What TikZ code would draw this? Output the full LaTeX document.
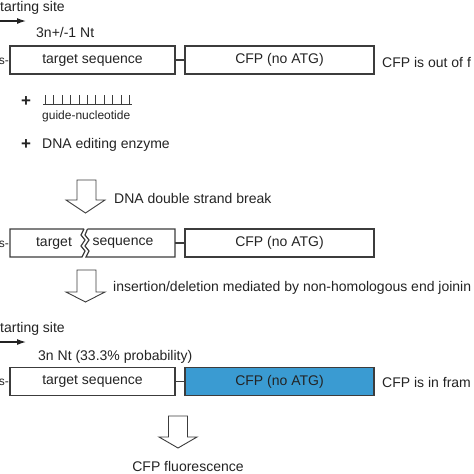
\documentclass[tikz,border=0pt]{standalone}
\usepackage{fontspec}
\setmainfont{Liberation Sans}
\usetikzlibrary{arrows.meta}
\definecolor{cfpblue}{RGB}{58,155,210}
\definecolor{ink}{RGB}{35,35,35}
\definecolor{edge}{RGB}{60,60,60}
\begin{document}
\begin{tikzpicture}[x=1pt,y=-1pt,
  lbl/.style={font=\fontsize{14}{16}\selectfont, text=ink, inner sep=0pt},
  endlbl/.style={font=\fontsize{12}{14}\selectfont, text=ink, inner sep=0pt},
  pluslbl/.style={font=\fontsize{17}{18}\selectfont\bfseries, text=ink, inner sep=0pt},
  smalllbl/.style={font=\fontsize{12}{14}\selectfont, text=ink, inner sep=0pt},
  seqbox/.style={draw=edge, line width=1.2pt, minimum height=28pt, inner sep=0pt, font=\fontsize{14}{16}\selectfont, text=ink},
  link/.style={draw=edge, line width=1.2pt},
  outline/.style={draw=edge, line width=1.2pt, line join=miter},
  blockarrow/.style={draw=edge, line width=0.9pt, fill=white, line join=miter},
  startarrow/.style={draw=ink, line width=1.2pt, -{Latex[length=9pt,width=6pt]}}]
\useasboundingbox (0,0) rectangle (474,474);

% ---------- row 1 ----------
\node[lbl, anchor=base west] (start1) at (0,11) {tarting site};
\coordinate (a1s) at (-2,21); \coordinate (a1e) at (26,21);
\draw[startarrow] (a1s) -- (a1e);
\node[lbl, anchor=base west] (nt1) at (36,37) {3n+/-1 Nt};
\node[endlbl, anchor=east] (five1) at (9,61) {s-};
\node[seqbox, minimum width=165pt] (tgt1) at (92.5,60) {target sequence};
\node[seqbox, minimum width=189pt] (cfp1) at (279.5,60) {CFP (no ATG)};
\draw[link] (tgt1) -- (cfp1);
\node[lbl, anchor=west] (out1) at (382,62) {CFP is out of f};

% guide nucleotide
\node[pluslbl] (plus1) at (26,102) {+};
\draw[edge, line width=1pt] (43,104) -- (132,104);
\foreach \i in {0,...,10} {
  \draw[edge, line width=1pt] ({45.5+8.4*\i},95) -- ({45.5+8.4*\i},104);
}
\node[smalllbl, anchor=west] (guide) at (42,116) {guide-nucleotide};

\node[pluslbl] (plus2) at (26,145) {+};
\node[lbl, anchor=west] (enz) at (42,145) {DNA editing enzyme};

% arrow 1
\draw[blockarrow] (77,180) -- (96,180) -- (96,200) -- (105,200) -- (85.5,213) -- (66,200) -- (77,200) -- cycle;
\node[lbl, anchor=west] (dsb) at (114,198) {DNA double strand break};

% ---------- row 2 ----------
\node[endlbl, anchor=east] (five2) at (9,244) {s-};
\node[minimum width=165pt, minimum height=28pt, inner sep=0pt] (tgt2) at (92.5,243) {};
\draw[outline] (84,229) -- (10,229) -- (10,257) -- (82,257)
  -- (85,251) -- (81,246) -- (85,240) -- (81,235) -- (84,229);
\draw[outline] (87.5,229) -- (175,229) -- (175,257) -- (86,257)
  -- (89,251) -- (85,246) -- (89,240) -- (85,235) -- (87.5,229);
\node[lbl] (tgt2a) at (54,243) {target};
\node[lbl] (tgt2b) at (123,243) {sequence};
\node[seqbox, minimum width=189pt] (cfp2) at (279.5,243) {CFP (no ATG)};
\draw[link] (tgt2) -- (cfp2);

% arrow 2
\draw[blockarrow] (77,270) -- (96,270) -- (96,292) -- (105,292) -- (85.5,302) -- (66,292) -- (77,292) -- cycle;
\node[lbl, anchor=west] (nhej) at (113,288) {insertion/deletion mediated by non-homologous end joinin};

% ---------- row 3 ----------
\node[lbl, anchor=base west] (start3) at (0,332) {tarting site};
\coordinate (a3s) at (-2,342); \coordinate (a3e) at (26,342);
\draw[startarrow] (a3s) -- (a3e);
\node[lbl, anchor=base west] (nt3) at (38,360) {3n Nt (33.3\% probability)};
\node[endlbl, anchor=east] (five3) at (9,382) {s-};
\node[seqbox, minimum width=165pt] (tgt3) at (92.5,381.5) {target sequence};
\node[seqbox, minimum width=189pt, fill=cfpblue] (cfp3) at (279.5,381.5) {CFP (no ATG)};
\draw[link] (tgt3) -- (cfp3);
\node[lbl, anchor=west] (in3) at (382,382) {CFP is in fram};

% arrow 3
\draw[blockarrow] (168.5,416) -- (187.5,416) -- (187.5,437) -- (197,437) -- (178,448) -- (159,437) -- (168.5,437) -- cycle;
\node[lbl] (fluo) at (188,466) {CFP fluorescence};
\end{tikzpicture}
\end{document}
